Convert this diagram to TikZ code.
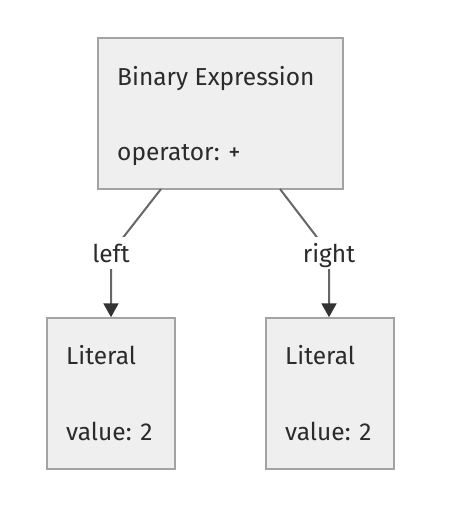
\documentclass[tikz,border=0pt]{standalone}
\usepackage{fontspec}
\setmainfont{Fira Sans}
\usetikzlibrary{arrows.meta}
\definecolor{boxfill}{HTML}{EFEFEF}
\definecolor{boxline}{HTML}{A3A3A3}
\definecolor{txt}{HTML}{2B2B2B}
\definecolor{edgec}{HTML}{666666}
\definecolor{tipc}{HTML}{333333}
\begin{document}
\begin{tikzpicture}[x=1pt,y=1pt,
  box/.style={draw=boxline, fill=boxfill, line width=1.5pt, inner sep=0pt},
  txtnode/.style={text=txt, font=\fontsize{24.5}{28}\selectfont, inner sep=0pt, anchor=base west},
  edgelabel/.style={fill=white, text=txt, font=\fontsize{24.5}{28}\selectfont, inner xsep=1pt, inner ysep=0pt, text height=18pt, text depth=0pt, minimum height=32pt},
  edge/.style={draw=edgec, line width=2pt, -{Triangle[length=14pt,width=15pt,color=tipc]}}
]
\useasboundingbox (0,0) rectangle (450,-509);
% boxes
\node[box, minimum width=245pt, minimum height=151pt] (top) at (220.5,-113.5) {};
\node[box, minimum width=128pt, minimum height=151pt] (L1) at (111,-393.5) {};
\node[box, minimum width=128pt, minimum height=151pt] (R1) at (330,-393.5) {};
% texts
\node[txtnode] (topT) at (117,-85) {Binary Expression};
\node[txtnode] (topV) at (117,-160) {operator: +};
\node[txtnode] (L1T) at (66,-364) {Literal};
\node[txtnode] (L1V) at (66,-440) {value: 2};
\node[txtnode] (R1T) at (285,-364) {Literal};
\node[txtnode] (R1V) at (285,-440) {value: 2};
% edge start points
\coordinate (s1) at (161,-189);
\coordinate (s2) at (280,-189);
\coordinate (lp) at (111,-253);
\coordinate (rp) at (329,-253);
\draw[edge] (s1) -- (lp) -- (lp |- L1.north);
\draw[edge] (s2) -- (rp) -- (rp |- R1.north);
\node[edgelabel] (lblL) at (lp) {left};
\node[edgelabel] (lblR) at (rp) {right};
\end{tikzpicture}
\end{document}
